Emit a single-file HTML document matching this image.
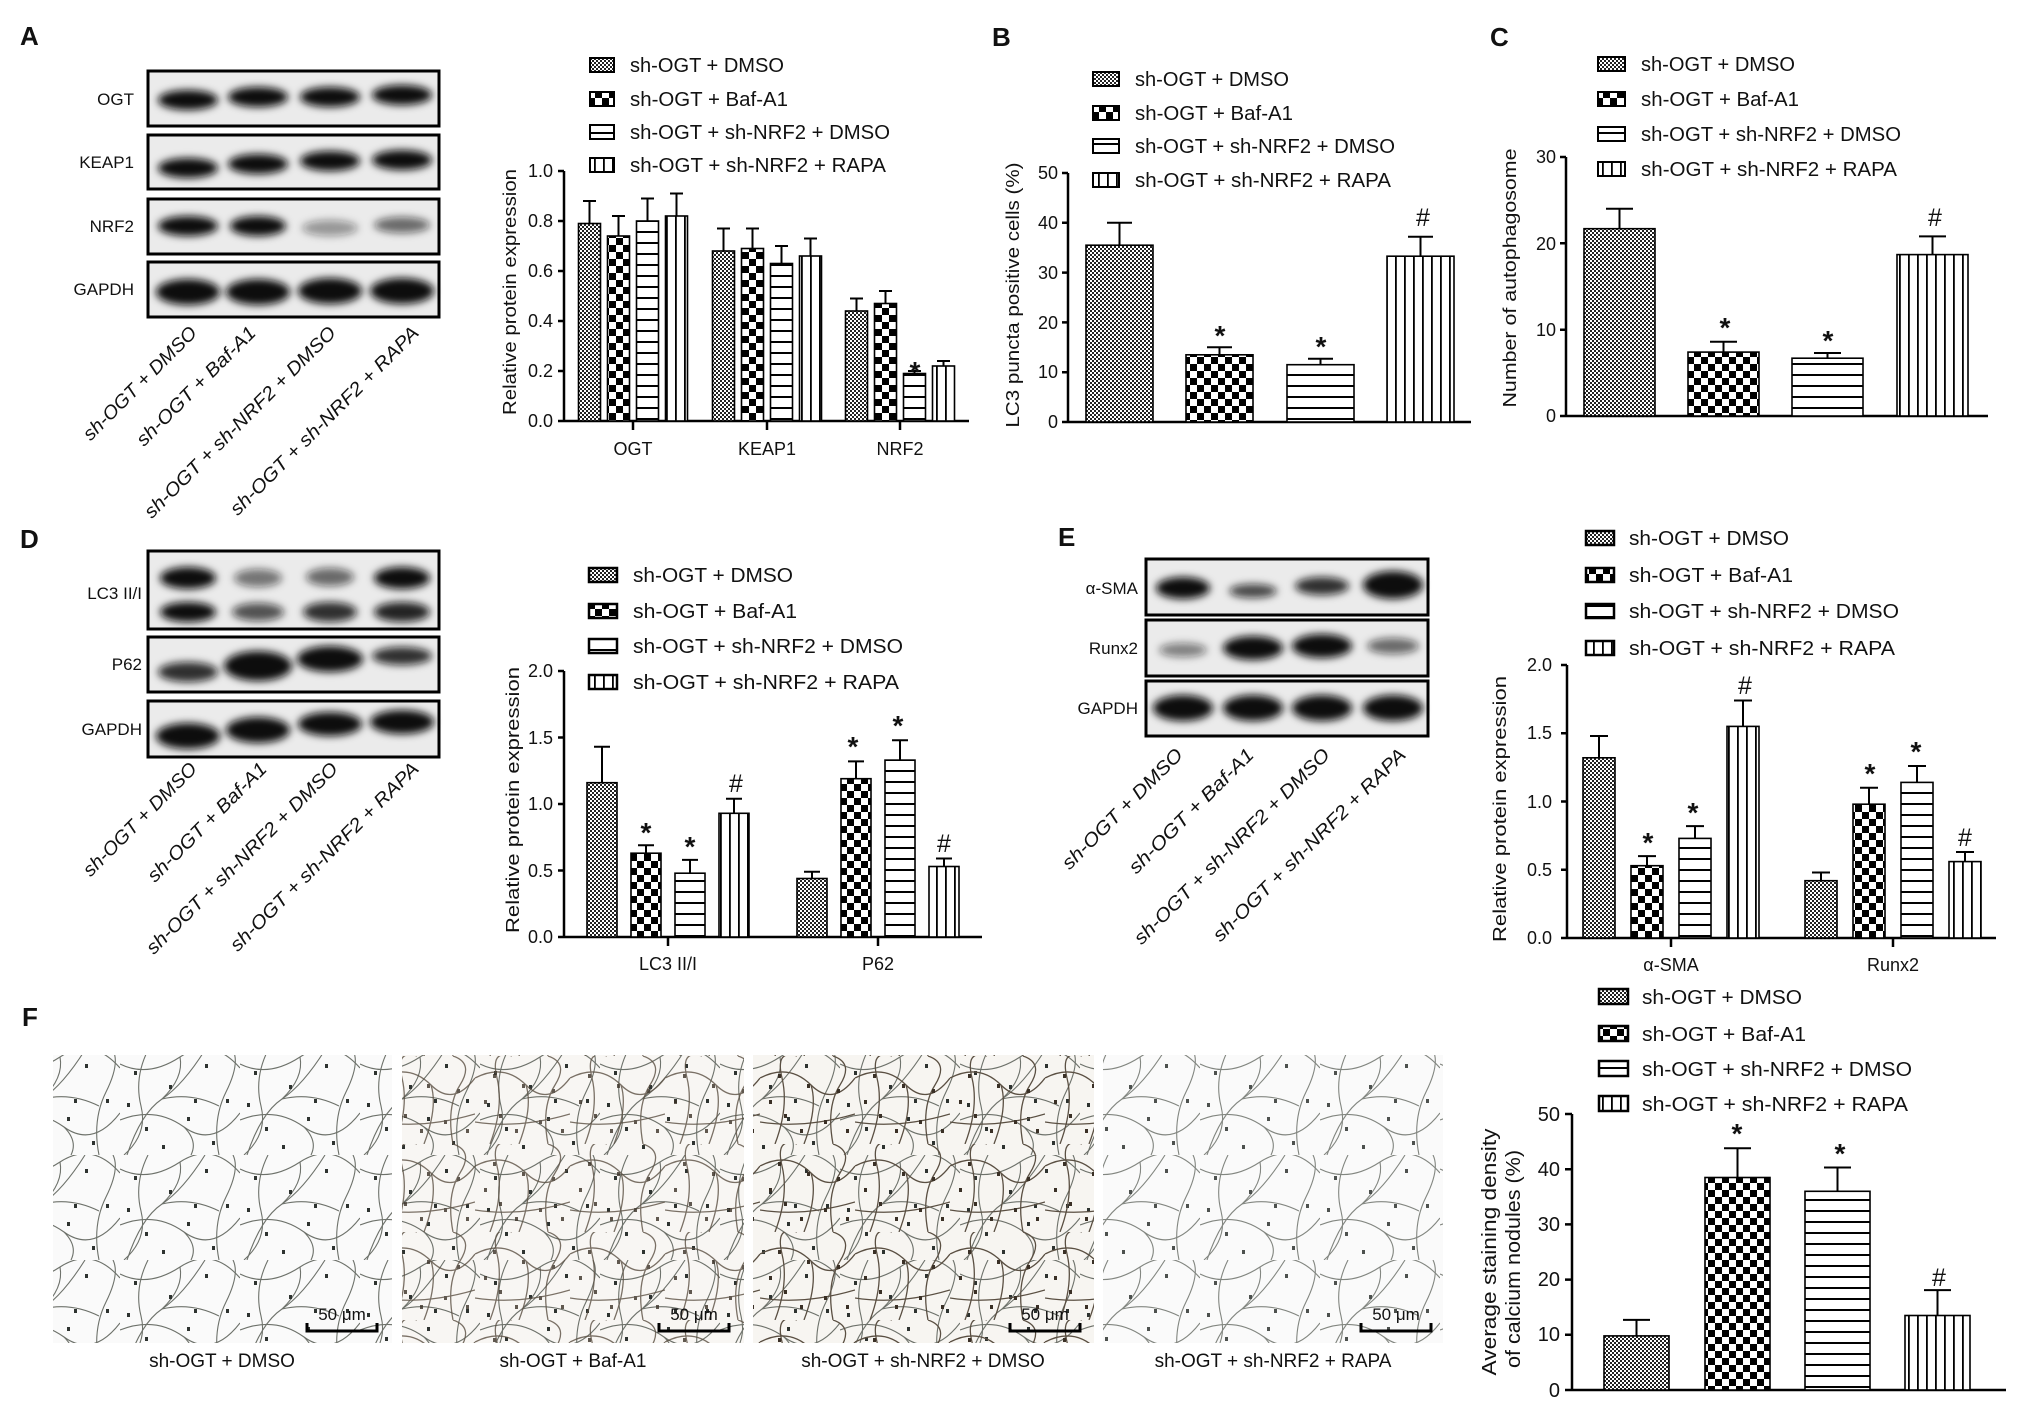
<!DOCTYPE html>
<html><head><meta charset="utf-8"><style>html,body{margin:0;padding:0;background:#fff}svg{display:block}
text{font-family:"Liberation Sans",sans-serif;fill:#111}
.lg{font-size:20px}.tk{font-size:18px;text-anchor:end}.yl{font-size:18px;text-anchor:middle}
.ct{font-size:18px;text-anchor:middle}.rl{font-size:19px;font-style:italic;text-anchor:end}
.pl{font-size:26px;font-weight:bold}.bl{font-size:17px;text-anchor:end}.mk{font-size:28px;font-weight:bold;text-anchor:middle}
.cap{font-size:19px;text-anchor:middle}
.ax{stroke:#000;stroke-width:2.5;fill:none}.bar{stroke:#000;stroke-width:1.6}.eb{stroke:#000;stroke-width:2;fill:none}
</style></head><body>
<svg width="2033" height="1412" viewBox="0 0 2033 1412" xmlns="http://www.w3.org/2000/svg">
<defs>
<pattern id="p1" width="4" height="4" patternUnits="userSpaceOnUse"><rect width="4" height="4" fill="#fff"/><rect width="2" height="2" fill="#222"/><rect x="2" y="2" width="2" height="2" fill="#222"/></pattern>
<pattern id="p2" width="14" height="14" patternUnits="userSpaceOnUse"><rect width="14" height="14" fill="#fff"/><rect width="7" height="7" fill="#000"/><rect x="7" y="7" width="7" height="7" fill="#000"/></pattern>
<pattern id="p3" width="10" height="11" patternUnits="userSpaceOnUse"><rect width="10" height="11" fill="#fff"/><rect y="0" width="10" height="2" fill="#000"/></pattern>
<pattern id="p4" width="9" height="10" patternUnits="userSpaceOnUse"><rect width="9" height="10" fill="#fff"/><rect x="0" width="1.8" height="10" fill="#000"/></pattern>
<filter id="bl" x="-30%" y="-80%" width="160%" height="260%"><feGaussianBlur stdDeviation="4"/></filter>
<pattern id="cells" width="120" height="105" patternUnits="userSpaceOnUse">
<g fill="none" stroke="#6d716a" stroke-width="1.1">
<path d="M0 14 Q28 28 60 7 T120 18"/><path d="M7 105 Q21 63 42 49 T85 0"/><path d="M0 70 Q35 56 64 77 T120 63"/>
<path d="M99 105 Q92 70 106 42 T113 0"/><path d="M28 0 Q14 28 21 56 T4 105"/><path d="M42 49 Q71 42 99 56"/>
<path d="M64 77 Q78 91 71 105"/><path d="M60 7 Q64 28 42 49"/></g>
<g fill="#2e3330"><rect x="14" y="21" width="3" height="4"/><rect x="49" y="35" width="3" height="4"/><rect x="85" y="14" width="3" height="4"/>
<rect x="106" y="49" width="3" height="4"/><rect x="25" y="77" width="3" height="4"/><rect x="67" y="67" width="3" height="4"/>
<rect x="92" y="91" width="3" height="4"/><rect x="7" y="53" width="3" height="4"/><rect x="42" y="95" width="3" height="4"/><rect x="74" y="49" width="3" height="4"/></g>
</pattern>
<pattern id="cells2" width="95" height="88" patternUnits="userSpaceOnUse">
<g fill="none" stroke="#5a4f42" stroke-width="1.3">
<path d="M0 22 Q29 7 51 29 T95 22"/><path d="M15 88 Q29 51 22 22 T37 0"/><path d="M0 66 Q44 73 95 58"/>
<path d="M73 88 Q66 51 80 29 T73 0"/><path d="M51 29 Q58 51 44 88"/></g>
<g fill="#3a3026"><rect x="18" y="18" width="3" height="4"/><rect x="47" y="28" width="3" height="4"/><rect x="77" y="33" width="3" height="4"/>
<rect x="24" y="58" width="3" height="4"/><rect x="64" y="64" width="3" height="4"/><rect x="9" y="44" width="3" height="4"/><rect x="86" y="73" width="3" height="4"/><rect x="40" y="73" width="3" height="4"/></g>
</pattern>
</defs>

<text class="pl" x="20" y="45">A</text><text class="pl" x="992" y="46">B</text><text class="pl" x="1490" y="46">C</text>
<text class="pl" x="20" y="548">D</text><text class="pl" x="1058" y="546">E</text><text class="pl" x="22" y="1026">F</text>

<g>
<rect x="148" y="71" width="291" height="55" fill="#ebebeb" stroke="#000" stroke-width="3"/>
<rect x="148" y="135" width="291" height="54" fill="#ebebeb" stroke="#000" stroke-width="3"/>
<rect x="148" y="199" width="291" height="55" fill="#ebebeb" stroke="#000" stroke-width="3"/>
<rect x="148" y="262" width="291" height="55" fill="#ebebeb" stroke="#000" stroke-width="3"/>
<g filter="url(#bl)" fill="#111">
<ellipse cx="188" cy="100" rx="30" ry="10"/><ellipse cx="258" cy="97" rx="30" ry="10"/><ellipse cx="330" cy="97" rx="30" ry="10"/><ellipse cx="402" cy="95" rx="30" ry="10"/>
<ellipse cx="188" cy="168" rx="30" ry="10"/><ellipse cx="258" cy="164" rx="30" ry="10"/><ellipse cx="330" cy="161" rx="30" ry="10"/><ellipse cx="402" cy="160" rx="30" ry="10"/>
<ellipse cx="188" cy="226" rx="30" ry="10"/><ellipse cx="258" cy="226" rx="28" ry="10"/><ellipse cx="330" cy="228" rx="28" ry="8" opacity=".4"/><ellipse cx="402" cy="225" rx="28" ry="8" opacity=".6"/>
<ellipse cx="188" cy="292" rx="32" ry="13"/><ellipse cx="258" cy="292" rx="32" ry="13"/><ellipse cx="330" cy="291" rx="32" ry="13"/><ellipse cx="402" cy="291" rx="32" ry="13"/>
</g>
<text class="bl" x="134" y="105">OGT</text><text class="bl" x="134" y="168">KEAP1</text><text class="bl" x="134" y="232">NRF2</text><text class="bl" x="134" y="295">GAPDH</text>
<text class="rl" transform="translate(198,334) rotate(-45)" textLength="152" lengthAdjust="spacingAndGlyphs">sh-OGT + DMSO</text>
<text class="rl" transform="translate(257,334) rotate(-45)" textLength="160" lengthAdjust="spacingAndGlyphs">sh-OGT + Baf-A1</text>
<text class="rl" transform="translate(337,334) rotate(-45)" textLength="262" lengthAdjust="spacingAndGlyphs">sh-OGT + sh-NRF2 + DMSO</text>
<text class="rl" transform="translate(420,334) rotate(-45)" textLength="258" lengthAdjust="spacingAndGlyphs">sh-OGT + sh-NRF2 + RAPA</text>
</g>

<g>
<g class="lg">
<rect x="590" y="58" width="24" height="14" fill="url(#p1)" stroke="#000" stroke-width="2"/><text x="630" y="72" textLength="154" lengthAdjust="spacingAndGlyphs">sh-OGT + DMSO</text>
<rect x="590" y="92" width="24" height="14" fill="url(#p2)" stroke="#000" stroke-width="2"/><text x="630" y="106" textLength="158" lengthAdjust="spacingAndGlyphs">sh-OGT + Baf-A1</text>
<rect x="590" y="125" width="24" height="14" fill="url(#p3)" stroke="#000" stroke-width="2"/><text x="630" y="139" textLength="260" lengthAdjust="spacingAndGlyphs">sh-OGT + sh-NRF2 + DMSO</text>
<rect x="590" y="158" width="24" height="14" fill="url(#p4)" stroke="#000" stroke-width="2"/><text x="630" y="172" textLength="256" lengthAdjust="spacingAndGlyphs">sh-OGT + sh-NRF2 + RAPA</text>
</g>
<path class="ax" d="M564 171V421H969M558 171H564M558 221H564M558 271H564M558 321H564M558 371H564M558 421H564M633 421v9M767 421v9M900 421v9"/>
<text class="tk" x="553" y="177">1.0</text><text class="tk" x="553" y="227">0.8</text><text class="tk" x="553" y="277">0.6</text><text class="tk" x="553" y="327">0.4</text><text class="tk" x="553" y="377">0.2</text><text class="tk" x="553" y="427">0.0</text>
<text class="yl" transform="translate(516,292) rotate(-90)" textLength="246" lengthAdjust="spacingAndGlyphs">Relative protein expression</text>
<text class="ct" x="633" y="455">OGT</text><text class="ct" x="767" y="455">KEAP1</text><text class="ct" x="900" y="455">NRF2</text>
<rect class="bar" x="578.5" y="223.5" width="22" height="197.5" fill="url(#p1)"/><rect class="bar" x="607.5" y="236" width="22" height="185" fill="url(#p2)"/><rect class="bar" x="636.5" y="221" width="22" height="200" fill="url(#p3)"/><rect class="bar" x="665.5" y="216" width="22" height="205" fill="url(#p4)"/>
<rect class="bar" x="712.5" y="251" width="22" height="170" fill="url(#p1)"/><rect class="bar" x="741.5" y="248.5" width="22" height="172.5" fill="url(#p2)"/><rect class="bar" x="770.5" y="263.5" width="22" height="157.5" fill="url(#p3)"/><rect class="bar" x="799.5" y="256" width="22" height="165" fill="url(#p4)"/>
<rect class="bar" x="845.5" y="311" width="22" height="110" fill="url(#p1)"/><rect class="bar" x="874.5" y="303.5" width="22" height="117.5" fill="url(#p2)"/><rect class="bar" x="903.5" y="373.5" width="22" height="47.5" fill="url(#p3)"/><rect class="bar" x="932.5" y="366" width="22" height="55" fill="url(#p4)"/>
<path class="eb" d="M589.5 223.5V201M583 201h13M618.5 236V216M612 216h13M647.5 221V198.5M641 198.5h13M676.5 216V193.5M670 193.5h13
M723.5 251V228.5M717 228.5h13M752.5 248.5V228.5M746 228.5h13M781.5 263.5V246M775 246h13M810.5 256V238.5M804 238.5h13
M856.5 311V298.5M850 298.5h13M885.5 303.5V291M879 291h13M914.5 373.5V371M908 371h13M943.5 366V361M937 361h13"/>
<text class="mk" x="915" y="381">*</text>
</g>

<g>
<g class="lg">
<rect x="1093" y="72" width="26" height="14" fill="url(#p1)" stroke="#000" stroke-width="2"/><text x="1135" y="86" textLength="154" lengthAdjust="spacingAndGlyphs">sh-OGT + DMSO</text>
<rect x="1093" y="106" width="26" height="14" fill="url(#p2)" stroke="#000" stroke-width="2"/><text x="1135" y="120" textLength="158" lengthAdjust="spacingAndGlyphs">sh-OGT + Baf-A1</text>
<rect x="1093" y="139" width="26" height="14" fill="url(#p3)" stroke="#000" stroke-width="2"/><text x="1135" y="153" textLength="260" lengthAdjust="spacingAndGlyphs">sh-OGT + sh-NRF2 + DMSO</text>
<rect x="1093" y="173" width="26" height="14" fill="url(#p4)" stroke="#000" stroke-width="2"/><text x="1135" y="187" textLength="256" lengthAdjust="spacingAndGlyphs">sh-OGT + sh-NRF2 + RAPA</text>
</g>
<path class="ax" d="M1068 173V422H1471M1062 173H1068M1062 222.8H1068M1062 272.6H1068M1062 322.4H1068M1062 372.2H1068M1062 422H1068"/>
<text class="tk" x="1058" y="179">50</text><text class="tk" x="1058" y="229">40</text><text class="tk" x="1058" y="279">30</text><text class="tk" x="1058" y="329">20</text><text class="tk" x="1058" y="378">10</text><text class="tk" x="1058" y="428">0</text>
<text class="yl" transform="translate(1019,295) rotate(-90)" textLength="265" lengthAdjust="spacingAndGlyphs">LC3 puncta positive cells (%)</text>
<rect class="bar" x="1086" y="245.2" width="67" height="176.8" fill="url(#p1)"/><rect class="bar" x="1186" y="354.8" width="67" height="67.2" fill="url(#p2)"/><rect class="bar" x="1287" y="364.7" width="67" height="57.3" fill="url(#p3)"/><rect class="bar" x="1387" y="256.2" width="67" height="165.8" fill="url(#p4)"/>
<path class="eb" d="M1119.5 245.2V222.8M1107 222.8h25M1219.5 354.8V347.3M1207 347.3h25M1320.5 364.7V358.8M1308 358.8h25M1420.5 256.2V236.7M1408 236.7h25"/>
<text class="mk" x="1220" y="345">*</text><text class="mk" x="1321" y="356">*</text><text class="mk" x="1423" y="226" style="font-weight:normal;font-size:25px">#</text>
</g>

<g>
<g class="lg">
<rect x="1598" y="57" width="27" height="14" fill="url(#p1)" stroke="#000" stroke-width="2"/><text x="1641" y="71" textLength="154" lengthAdjust="spacingAndGlyphs">sh-OGT + DMSO</text>
<rect x="1598" y="92" width="27" height="14" fill="url(#p2)" stroke="#000" stroke-width="2"/><text x="1641" y="106" textLength="158" lengthAdjust="spacingAndGlyphs">sh-OGT + Baf-A1</text>
<rect x="1598" y="127" width="27" height="14" fill="url(#p3)" stroke="#000" stroke-width="2"/><text x="1641" y="141" textLength="260" lengthAdjust="spacingAndGlyphs">sh-OGT + sh-NRF2 + DMSO</text>
<rect x="1598" y="162" width="27" height="14" fill="url(#p4)" stroke="#000" stroke-width="2"/><text x="1641" y="176" textLength="256" lengthAdjust="spacingAndGlyphs">sh-OGT + sh-NRF2 + RAPA</text>
</g>
<path class="ax" d="M1566 157V416H1988M1560 157H1566M1560 243.3H1566M1560 329.7H1566M1560 416H1566"/>
<text class="tk" x="1556" y="163">30</text><text class="tk" x="1556" y="250">20</text><text class="tk" x="1556" y="336">10</text><text class="tk" x="1556" y="422">0</text>
<text class="yl" transform="translate(1516,278) rotate(-90)" textLength="259" lengthAdjust="spacingAndGlyphs">Number of autophagosome</text>
<rect class="bar" x="1584" y="228.7" width="71" height="187.3" fill="url(#p1)"/><rect class="bar" x="1688" y="352.1" width="71" height="63.9" fill="url(#p2)"/><rect class="bar" x="1792" y="358.2" width="71" height="57.8" fill="url(#p3)"/><rect class="bar" x="1897" y="254.6" width="71" height="161.4" fill="url(#p4)"/>
<path class="eb" d="M1619.5 228.7V208.8M1606 208.8h27M1723.5 352.1V341.8M1710 341.8h27M1827.5 358.2V353M1814 353h27M1932.5 254.6V236.4M1919 236.4h27"/>
<text class="mk" x="1725" y="337">*</text><text class="mk" x="1828" y="350">*</text><text class="mk" x="1935" y="226" style="font-weight:normal;font-size:25px">#</text>
</g>

<g>
<rect x="148" y="551" width="291" height="78" fill="#ebebeb" stroke="#000" stroke-width="3"/>
<rect x="148" y="637" width="291" height="55" fill="#ebebeb" stroke="#000" stroke-width="3"/>
<rect x="148" y="701" width="291" height="56" fill="#ebebeb" stroke="#000" stroke-width="3"/>
<g filter="url(#bl)" fill="#111">
<ellipse cx="188" cy="578" rx="28" ry="11"/><ellipse cx="258" cy="578" rx="24" ry="9" opacity=".55"/><ellipse cx="330" cy="577" rx="24" ry="9" opacity=".6"/><ellipse cx="402" cy="578" rx="28" ry="11"/>
<ellipse cx="188" cy="612" rx="28" ry="10"/><ellipse cx="258" cy="612" rx="26" ry="9" opacity=".7"/><ellipse cx="330" cy="612" rx="27" ry="10" opacity=".85"/><ellipse cx="402" cy="612" rx="28" ry="10" opacity=".9"/>
<ellipse cx="188" cy="672" rx="30" ry="10" opacity=".85"/><ellipse cx="258" cy="666" rx="34" ry="15"/><ellipse cx="330" cy="659" rx="33" ry="13"/><ellipse cx="402" cy="656" rx="30" ry="9" opacity=".85"/>
<ellipse cx="188" cy="736" rx="32" ry="13"/><ellipse cx="258" cy="730" rx="32" ry="13"/><ellipse cx="330" cy="724" rx="32" ry="12"/><ellipse cx="402" cy="722" rx="32" ry="12"/>
</g>
<text class="bl" x="142" y="599">LC3 II/I</text><text class="bl" x="142" y="670">P62</text><text class="bl" x="142" y="735">GAPDH</text>
<text class="rl" transform="translate(198,770) rotate(-45)" textLength="152" lengthAdjust="spacingAndGlyphs">sh-OGT + DMSO</text>
<text class="rl" transform="translate(268,770) rotate(-45)" textLength="160" lengthAdjust="spacingAndGlyphs">sh-OGT + Baf-A1</text>
<text class="rl" transform="translate(339,770) rotate(-45)" textLength="262" lengthAdjust="spacingAndGlyphs">sh-OGT + sh-NRF2 + DMSO</text>
<text class="rl" transform="translate(420,770) rotate(-45)" textLength="258" lengthAdjust="spacingAndGlyphs">sh-OGT + sh-NRF2 + RAPA</text>
</g>

<g>
<g class="lg">
<rect x="589" y="568" width="28" height="14" fill="url(#p1)" stroke="#000" stroke-width="2.5"/><text x="633" y="582" textLength="160" lengthAdjust="spacingAndGlyphs">sh-OGT + DMSO</text>
<rect x="589" y="604" width="28" height="14" fill="url(#p2)" stroke="#000" stroke-width="2.5"/><text x="633" y="618" textLength="164" lengthAdjust="spacingAndGlyphs">sh-OGT + Baf-A1</text>
<rect x="589" y="639" width="28" height="14" fill="url(#p3)" stroke="#000" stroke-width="2.5"/><text x="633" y="653" textLength="270" lengthAdjust="spacingAndGlyphs">sh-OGT + sh-NRF2 + DMSO</text>
<rect x="589" y="675" width="28" height="14" fill="url(#p4)" stroke="#000" stroke-width="2.5"/><text x="633" y="689" textLength="266" lengthAdjust="spacingAndGlyphs">sh-OGT + sh-NRF2 + RAPA</text>
</g>
<path class="ax" d="M564 671V937H982M558 671H564M558 737.5H564M558 804H564M558 870.5H564M558 937H564M668 937v9M878 937v9"/>
<text class="tk" x="553" y="677">2.0</text><text class="tk" x="553" y="744">1.5</text><text class="tk" x="553" y="810">1.0</text><text class="tk" x="553" y="877">0.5</text><text class="tk" x="553" y="943">0.0</text>
<text class="yl" transform="translate(519,800) rotate(-90)" textLength="266" lengthAdjust="spacingAndGlyphs">Relative protein expression</text>
<text class="ct" x="668" y="970">LC3 II/I</text><text class="ct" x="878" y="970">P62</text>
<rect class="bar" x="587" y="782.7" width="30" height="154.3" fill="url(#p1)"/><rect class="bar" x="631" y="853.2" width="30" height="83.8" fill="url(#p2)"/><rect class="bar" x="675" y="873.2" width="30" height="63.8" fill="url(#p3)"/><rect class="bar" x="719" y="813.3" width="30" height="123.7" fill="url(#p4)"/>
<rect class="bar" x="797" y="878.5" width="30" height="58.5" fill="url(#p1)"/><rect class="bar" x="841" y="778.7" width="30" height="158.3" fill="url(#p2)"/><rect class="bar" x="885" y="760.1" width="30" height="176.9" fill="url(#p3)"/><rect class="bar" x="929" y="866.5" width="30" height="70.5" fill="url(#p4)"/>
<path class="eb" d="M602 782.7V746.8M594 746.8h16M646 853.2V845.2M638 845.2h16M690 873.2V859.9M682 859.9h16M734 813.3V798.7M726 798.7h16
M812 878.5V871.8M804 871.8h16M856 778.7V761.4M848 761.4h16M900 760.1V740.2M892 740.2h16M944 866.5V858.5M936 858.5h16"/>
<text class="mk" x="646" y="842">*</text><text class="mk" x="690" y="856">*</text><text class="mk" x="736" y="792" style="font-weight:normal;font-size:25px">#</text>
<text class="mk" x="853" y="756">*</text><text class="mk" x="898" y="735">*</text><text class="mk" x="944" y="852" style="font-weight:normal;font-size:25px">#</text>
</g>

<g>
<rect x="1146" y="559" width="282" height="56" fill="#ebebeb" stroke="#000" stroke-width="3"/>
<rect x="1146" y="620" width="282" height="56" fill="#ebebeb" stroke="#000" stroke-width="3"/>
<rect x="1146" y="681" width="282" height="55" fill="#ebebeb" stroke="#000" stroke-width="3"/>
<g filter="url(#bl)" fill="#111">
<ellipse cx="1183" cy="588" rx="27" ry="11"/><ellipse cx="1253" cy="591" rx="24" ry="7" opacity=".75"/><ellipse cx="1322" cy="586" rx="27" ry="9" opacity=".85"/><ellipse cx="1393" cy="585" rx="30" ry="14"/>
<ellipse cx="1183" cy="650" rx="24" ry="7" opacity=".5"/><ellipse cx="1253" cy="648" rx="30" ry="12"/><ellipse cx="1322" cy="646" rx="30" ry="12"/><ellipse cx="1393" cy="646" rx="26" ry="8" opacity=".6"/>
<ellipse cx="1183" cy="708" rx="30" ry="13"/><ellipse cx="1253" cy="708" rx="30" ry="13"/><ellipse cx="1322" cy="708" rx="30" ry="13"/><ellipse cx="1393" cy="708" rx="30" ry="13"/>
</g>
<text class="bl" x="1138" y="594">α-SMA</text><text class="bl" x="1138" y="654">Runx2</text><text class="bl" x="1138" y="714">GAPDH</text>
<text class="rl" transform="translate(1184,756) rotate(-45)" textLength="162" lengthAdjust="spacingAndGlyphs">sh-OGT + DMSO</text>
<text class="rl" transform="translate(1255,756) rotate(-45)" textLength="168" lengthAdjust="spacingAndGlyphs">sh-OGT + Baf-A1</text>
<text class="rl" transform="translate(1331,756) rotate(-45)" textLength="268" lengthAdjust="spacingAndGlyphs">sh-OGT + sh-NRF2 + DMSO</text>
<text class="rl" transform="translate(1407,756) rotate(-45)" textLength="264" lengthAdjust="spacingAndGlyphs">sh-OGT + sh-NRF2 + RAPA</text>
</g>

<g>
<g class="lg">
<rect x="1586" y="531" width="28" height="14" fill="url(#p1)" stroke="#000" stroke-width="2.5"/><text x="1629" y="545" textLength="160" lengthAdjust="spacingAndGlyphs">sh-OGT + DMSO</text>
<rect x="1586" y="568" width="28" height="14" fill="url(#p2)" stroke="#000" stroke-width="2.5"/><text x="1629" y="582" textLength="164" lengthAdjust="spacingAndGlyphs">sh-OGT + Baf-A1</text>
<rect x="1586" y="604" width="28" height="14" fill="url(#p3)" stroke="#000" stroke-width="2.5"/><text x="1629" y="618" textLength="270" lengthAdjust="spacingAndGlyphs">sh-OGT + sh-NRF2 + DMSO</text>
<rect x="1586" y="641" width="28" height="14" fill="url(#p4)" stroke="#000" stroke-width="2.5"/><text x="1629" y="655" textLength="266" lengthAdjust="spacingAndGlyphs">sh-OGT + sh-NRF2 + RAPA</text>
</g>
<path class="ax" d="M1567 665V938H1996M1561 665H1567M1561 733.25H1567M1561 801.5H1567M1561 869.75H1567M1561 938H1567M1671 938v9M1893 938v9"/>
<text class="tk" x="1552" y="671">2.0</text><text class="tk" x="1552" y="739">1.5</text><text class="tk" x="1552" y="808">1.0</text><text class="tk" x="1552" y="876">0.5</text><text class="tk" x="1552" y="944">0.0</text>
<text class="yl" transform="translate(1506,809) rotate(-90)" textLength="266" lengthAdjust="spacingAndGlyphs">Relative protein expression</text>
<text class="ct" x="1671" y="971">α-SMA</text><text class="ct" x="1893" y="971">Runx2</text>
<rect class="bar" x="1583" y="757.8" width="32" height="180.2" fill="url(#p1)"/><rect class="bar" x="1631" y="865.7" width="32" height="72.3" fill="url(#p2)"/><rect class="bar" x="1679" y="838.4" width="32" height="99.6" fill="url(#p3)"/><rect class="bar" x="1727" y="726.4" width="32" height="211.6" fill="url(#p4)"/>
<rect class="bar" x="1805" y="880.7" width="32" height="57.3" fill="url(#p1)"/><rect class="bar" x="1853" y="804.2" width="32" height="133.8" fill="url(#p2)"/><rect class="bar" x="1901" y="782.4" width="32" height="155.6" fill="url(#p3)"/><rect class="bar" x="1949" y="861.6" width="32" height="76.4" fill="url(#p4)"/>
<path class="eb" d="M1599 757.8V736M1590 736h18M1647 865.7V856.1M1638 856.1h18M1695 838.4V826.1M1686 826.1h18M1743 726.4V700.5M1734 700.5h18
M1821 880.7V872.5M1812 872.5h18M1869 804.2V787.8M1860 787.8h18M1917 782.4V766M1908 766h18M1965 861.6V852M1956 852h18"/>
<text class="mk" x="1648" y="852">*</text><text class="mk" x="1693" y="822">*</text><text class="mk" x="1745" y="694" style="font-weight:normal;font-size:25px">#</text>
<text class="mk" x="1870" y="783">*</text><text class="mk" x="1916" y="761">*</text><text class="mk" x="1965" y="846" style="font-weight:normal;font-size:25px">#</text>
</g>

<g>
<rect x="53" y="1055" width="339" height="288" fill="#fafafa"/><rect x="53" y="1055" width="339" height="288" fill="url(#cells)"/>
<rect x="402" y="1055" width="342" height="288" fill="#f8f6f3"/><rect x="402" y="1055" width="342" height="288" fill="url(#cells)"/><rect x="402" y="1055" width="342" height="288" fill="url(#cells2)" opacity=".8"/>
<rect x="753" y="1055" width="341" height="288" fill="#f7f5f1"/><rect x="753" y="1055" width="341" height="288" fill="url(#cells)"/><rect x="753" y="1055" width="341" height="288" fill="url(#cells2)"/>
<rect x="1103" y="1055" width="340" height="288" fill="#fafafa"/><rect x="1103" y="1055" width="340" height="288" fill="url(#cells)" opacity=".85"/>
<g stroke="#000" stroke-width="3" fill="none">
<path d="M307 1323V1331H377V1323"/><path d="M659 1323V1331H729V1323"/><path d="M1010 1323V1331H1080V1323"/><path d="M1361 1323V1331H1431V1323"/>
</g>
<g style="font-size:17px;text-anchor:middle">
<text x="342" y="1320">50 μm</text><text x="694" y="1320">50 μm</text><text x="1045" y="1320">50 μm</text><text x="1396" y="1320">50 μm</text>
</g>
<text class="cap" x="222" y="1367">sh-OGT + DMSO</text><text class="cap" x="573" y="1367">sh-OGT + Baf-A1</text>
<text class="cap" x="923" y="1367">sh-OGT + sh-NRF2 + DMSO</text><text class="cap" x="1273" y="1367">sh-OGT + sh-NRF2 + RAPA</text>
</g>

<g>
<g class="lg">
<rect x="1599" y="989" width="29" height="15" fill="url(#p1)" stroke="#000" stroke-width="2.5"/><text x="1642" y="1004" textLength="160" lengthAdjust="spacingAndGlyphs">sh-OGT + DMSO</text>
<rect x="1599" y="1026" width="29" height="15" fill="url(#p2)" stroke="#000" stroke-width="2.5"/><text x="1642" y="1041" textLength="164" lengthAdjust="spacingAndGlyphs">sh-OGT + Baf-A1</text>
<rect x="1599" y="1061" width="29" height="15" fill="url(#p3)" stroke="#000" stroke-width="2.5"/><text x="1642" y="1076" textLength="270" lengthAdjust="spacingAndGlyphs">sh-OGT + sh-NRF2 + DMSO</text>
<rect x="1599" y="1096" width="29" height="15" fill="url(#p4)" stroke="#000" stroke-width="2.5"/><text x="1642" y="1111" textLength="266" lengthAdjust="spacingAndGlyphs">sh-OGT + sh-NRF2 + RAPA</text>
</g>
<path class="ax" d="M1572 1114V1390H2006M1565 1114H1572M1565 1169.2H1572M1565 1224.4H1572M1565 1279.6H1572M1565 1334.8H1572M1565 1390H1572"/>
<g style="font-size:20px;text-anchor:end">
<text x="1560" y="1121">50</text><text x="1560" y="1176">40</text><text x="1560" y="1231">30</text><text x="1560" y="1286">20</text><text x="1560" y="1341">10</text><text x="1560" y="1397">0</text>
</g>
<text class="yl" style="font-size:20px" transform="translate(1496,1252) rotate(-90)" textLength="247" lengthAdjust="spacingAndGlyphs">Average staining density</text>
<text class="yl" style="font-size:20px" transform="translate(1520,1259) rotate(-90)" textLength="218" lengthAdjust="spacingAndGlyphs">of calcium nodules (%)</text>
<rect class="bar" x="1604" y="1335.9" width="65" height="54.1" fill="url(#p1)"/><rect class="bar" x="1705" y="1177.5" width="65" height="212.5" fill="url(#p2)"/><rect class="bar" x="1805" y="1191.3" width="65" height="198.7" fill="url(#p3)"/><rect class="bar" x="1905" y="1315.5" width="65" height="74.5" fill="url(#p4)"/>
<path class="eb" d="M1636.5 1335.9V1319.9M1623 1319.9h27M1737.5 1177.5V1148.2M1724 1148.2h27M1837.5 1191.3V1167.5M1824 1167.5h27M1937.5 1315.5V1290.1M1924 1290.1h27"/>
<text class="mk" x="1737" y="1143">*</text><text class="mk" x="1840" y="1163">*</text><text class="mk" x="1939" y="1286" style="font-weight:normal;font-size:25px">#</text>
</g>
</svg>
</body></html>
